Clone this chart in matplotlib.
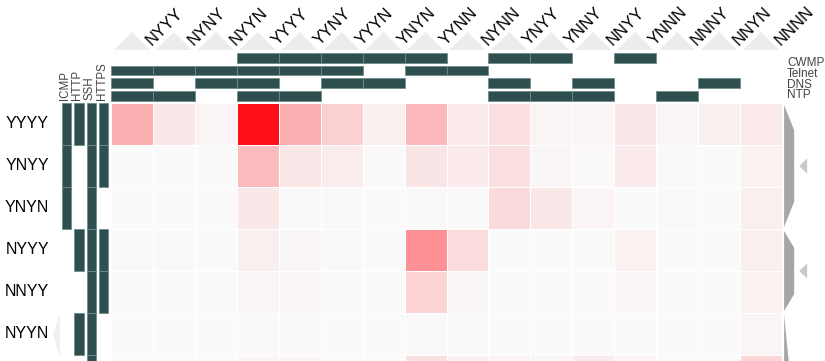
import numpy as np
import matplotlib.pyplot as plt
from matplotlib.colors import LinearSegmentedColormap
from matplotlib.patches import Rectangle, Polygon

plt.rcParams['font.family'] = ['Liberation Sans', 'DejaVu Sans']

# column combinations (CWMP, Telnet, DNS, NTP) and row combinations (ICMP, HTTP, SSH, HTTPS)
col_labels = ['NYYY', 'NYNY', 'NYYN', 'YYYY', 'YYNY', 'YYYN', 'YNYN', 'YYNN',
              'NYNN', 'YNYY', 'YNNY', 'NNYY', 'YNNN', 'NNNY', 'NNYN', 'NNNN']
row_labels = ['YYYY', 'YNYY', 'YNYN', 'NYYY', 'NNYY', 'NYYN', 'NNYN']
col_sets = ['CWMP', 'Telnet', 'DNS', 'NTP']
row_sets = ['ICMP', 'HTTP', 'SSH', 'HTTPS']
# rows per group on the right side (last group runs past the bottom edge)
group_sizes = [3, 2, 12]

# relative intensity of each cell (0 = none, 1 = max)
values = np.array([
    [0.32, 0.08, 0.03, 1.00, 0.32, 0.18, 0.05, 0.28, 0.07, 0.11, 0.03, 0.03, 0.08, 0.02, 0.05, 0.07],
    [0.00, 0.00, 0.00, 0.27, 0.08, 0.06, 0.01, 0.09, 0.07, 0.11, 0.02, 0.01, 0.07, 0.01, 0.00, 0.04],
    [0.00, 0.00, 0.00, 0.08, 0.00, 0.01, 0.00, 0.01, 0.01, 0.14, 0.08, 0.03, 0.00, 0.01, 0.00, 0.05],
    [0.01, 0.01, 0.00, 0.05, 0.02, 0.01, 0.00, 0.45, 0.13, 0.00, 0.00, 0.00, 0.04, 0.00, 0.00, 0.05],
    [0.00, 0.00, 0.00, 0.02, 0.02, 0.01, 0.00, 0.17, 0.02, 0.00, 0.00, 0.00, 0.02, 0.00, 0.00, 0.04],
    [0.00, 0.00, 0.00, 0.01, 0.01, 0.00, 0.00, 0.01, 0.01, 0.00, 0.00, 0.00, 0.00, 0.00, 0.00, 0.03],
    [0.00, 0.00, 0.00, 0.02, 0.02, 0.00, 0.00, 0.11, 0.04, 0.03, 0.02, 0.06, 0.03, 0.00, 0.00, 0.15],
])

dark = '#2f4f4f'
cmap = LinearSegmentedColormap.from_list('wr', ['#fafafa', '#ff1018'])

fig = plt.figure(figsize=(8.25, 3.61), dpi=100)
ax = fig.add_axes([0, 0, 1, 1])
ax.axis('off')
ax.set_xlim(-2.647, 17.025)
ax.set_ylim(6.143, -2.452)
y_bottom = 6.143

n_rows, n_cols = values.shape

# heatmap
ax.pcolormesh(np.arange(n_cols + 1), np.arange(n_rows + 1), values, cmap=cmap,
              vmin=0, vmax=1, edgecolors='white', linewidth=0.5, zorder=2)

# column header: triangles, labels, membership bars
for j, lab in enumerate(col_labels):
    c = j + 0.5
    ax.add_patch(Polygon([(c - 0.43, -1.262), (c, -1.69), (c + 0.43, -1.262)],
                         closed=True, facecolor='#ececec', edgecolor='none', zorder=1))
    ax.text(c + 0.47, -1.36, lab, rotation=45, rotation_mode='anchor', ha='left',
            va='baseline', fontsize=12, color='black', zorder=3)
    for k, flag in enumerate(lab):
        if flag == 'Y':
            ax.add_patch(Rectangle((j, -1.19 + k * 0.302), 1, 0.23, facecolor=dark,
                                   edgecolor='#6f8c8c', linewidth=0.6, zorder=2))

for k, name in enumerate(col_sets):
    ax.text(16.12, -0.95 + k * 0.255, name, ha='left', va='center', fontsize=8.5,
            color='#444444')

# row header: labels and membership bars
for i, lab in enumerate(row_labels):
    if i + 0.5 < y_bottom - 0.2:
        ax.text(-2.0, i + 0.5, lab, ha='center', va='center', fontsize=11.5, color='black')
    for k, flag in enumerate(lab):
        if flag == 'Y':
            ax.add_patch(Rectangle((-1.168 + k * 0.296, i), 0.22, 1, facecolor=dark,
                                   edgecolor='#6f8c8c', linewidth=0.6, zorder=2))

for k, name in enumerate(row_sets):
    ax.text(-1.096 + k * 0.296, -0.07, name, rotation=90, ha='center', va='bottom',
            fontsize=8.3, color='#444444')

# faint marker left of NYYN row
ax.add_patch(Polygon([(-1.22, 5.0), (-1.38, 5.5), (-1.22, 6.05)], closed=True,
                     facecolor='#f0f0f0', edgecolor='none', zorder=1))

# group shapes on the right
start = 0
for n in group_sizes:
    top, bot = start + 0.05, start + n - 0.05
    taper = 0.2 * n
    ax.add_patch(Polygon([(16.05, top), (16.29, top + taper), (16.29, bot - taper),
                          (16.05, bot)], closed=True, facecolor='#a6a6a6',
                         edgecolor='none', zorder=2))
    mid = start + n / 2
    ax.add_patch(Polygon([(16.41, mid), (16.6, mid - 0.18), (16.6, mid + 0.18)],
                         closed=True, facecolor='#c8c8c8', edgecolor='none', zorder=2))
    start += n

fig.savefig('out.png', dpi=100)
